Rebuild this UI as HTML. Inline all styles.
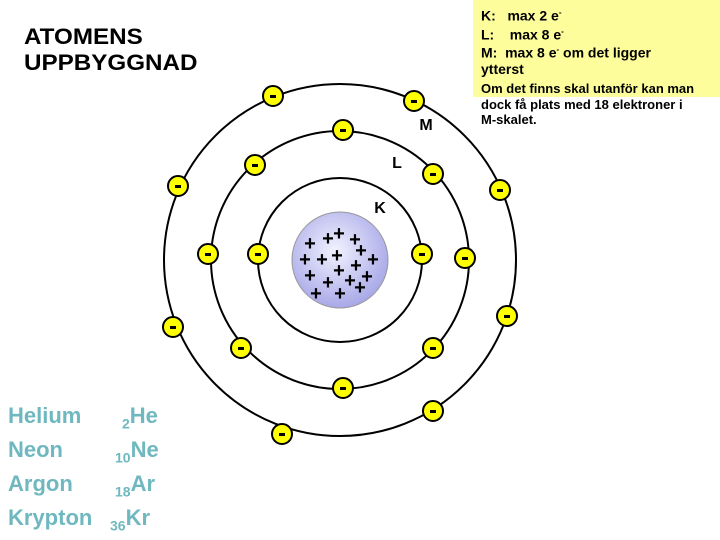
<html><head><style>body{margin:0;width:720px;height:540px;background:#fff;overflow:hidden;position:relative;font-family:"Liberation Sans",sans-serif}
.box{position:absolute;left:473px;top:0;width:247px;height:97px;background:#fdfd9c}
.t{position:absolute;font-weight:bold;color:#000}
.el{position:absolute;color:#6fb8c0;font-family:"Liberation Sans",sans-serif;font-weight:bold;font-size:22px}
sub{font-size:14px}
</style></head><body>
<div class="box"></div>
<div class="t" style="left:481px;top:5px;font-size:14px;line-height:16px">K:&nbsp;&nbsp; max 2 e<sup style="font-size:8px">-</sup><br>L:&nbsp;&nbsp;&nbsp; max 8 e<sup style="font-size:8px">-</sup><br>M:&nbsp; max 8 e<sup style="font-size:8px">-</sup> om det ligger<br>ytterst</div>
<div class="t" style="left:481px;top:81px;font-size:13px;line-height:15.5px">Om det finns skal utanför kan man<br>dock få plats med 18 elektroner i<br>M-skalet.</div>
<div class="t" style="left:24px;top:24px;font-size:22px;line-height:26px;transform:scaleX(1.1);transform-origin:left">ATOMENS<br>UPPBYGGNAD</div>
<svg width="720" height="540" style="position:absolute;left:0;top:0">
<defs><radialGradient id="g" cx="45%" cy="40%" r="60%"><stop offset="0" stop-color="#f2f2ff"/><stop offset="1" stop-color="#a8a8e8"/></radialGradient></defs>
<g fill="none" stroke="#000" stroke-width="2">
<circle cx="340" cy="260" r="176"/><circle cx="340" cy="260" r="129"/><circle cx="340" cy="260" r="82"/></g>
<circle cx="340" cy="260" r="48" fill="url(#g)" stroke="#999"/>
<g font-family="Liberation Sans" font-weight="bold" font-size="20" text-anchor="middle">
<text x="310" y="250">+</text><text x="328" y="245">+</text><text x="339" y="240">+</text><text x="355" y="246">+</text><text x="361" y="257">+</text>
<text x="305" y="266">+</text><text x="322" y="266">+</text><text x="337" y="262">+</text><text x="356" y="272">+</text><text x="373" y="266">+</text>
<text x="310" y="282">+</text><text x="328" y="289">+</text><text x="339" y="277">+</text><text x="350" y="287">+</text><text x="367" y="283">+</text>
<text x="316" y="300">+</text><text x="340" y="300">+</text><text x="360" y="294">+</text>
<text x="380" y="213" font-size="16">K</text>
<text x="397" y="168" font-size="16">L</text>
<text x="426" y="130" font-size="16">M</text>
</g>
<g fill="#ffff00" stroke="#000" stroke-width="2">
<circle cx="273" cy="96" r="10"/><circle cx="414" cy="101" r="10"/><circle cx="178" cy="186" r="10"/><circle cx="500" cy="190" r="10"/><circle cx="173" cy="327" r="10"/><circle cx="507" cy="316" r="10"/><circle cx="282" cy="434" r="10"/><circle cx="433" cy="411" r="10"/>
<circle cx="343" cy="130" r="10"/><circle cx="255" cy="165" r="10"/><circle cx="433" cy="174" r="10"/><circle cx="208" cy="254" r="10"/><circle cx="465" cy="258" r="10"/><circle cx="241" cy="348" r="10"/><circle cx="433" cy="348" r="10"/><circle cx="343" cy="388" r="10"/>
<circle cx="258" cy="254" r="10"/><circle cx="422" cy="254" r="10"/>
</g>
<g fill="#000">
<rect x="270" y="95" width="6" height="3"/><rect x="411" y="100" width="6" height="3"/><rect x="175" y="185" width="6" height="3"/><rect x="497" y="189" width="6" height="3"/><rect x="170" y="326" width="6" height="3"/><rect x="504" y="315" width="6" height="3"/><rect x="279" y="433" width="6" height="3"/><rect x="430" y="410" width="6" height="3"/>
<rect x="340" y="129" width="6" height="3"/><rect x="252" y="164" width="6" height="3"/><rect x="430" y="173" width="6" height="3"/><rect x="205" y="253" width="6" height="3"/><rect x="462" y="257" width="6" height="3"/><rect x="238" y="347" width="6" height="3"/><rect x="430" y="347" width="6" height="3"/><rect x="340" y="387" width="6" height="3"/>
<rect x="255" y="253" width="6" height="3"/><rect x="419" y="253" width="6" height="3"/>
</g>
</svg>
<div class="el" style="left:8px;top:403px">Helium</div><div class="el" style="left:122px;top:403px"><sub>2</sub>He</div>
<div class="el" style="left:8px;top:437px">Neon</div><div class="el" style="left:115px;top:437px"><sub>10</sub>Ne</div>
<div class="el" style="left:8px;top:471px">Argon</div><div class="el" style="left:115px;top:471px"><sub>18</sub>Ar</div>
<div class="el" style="left:8px;top:505px">Krypton</div><div class="el" style="left:110px;top:505px"><sub>36</sub>Kr</div>
</body></html>
